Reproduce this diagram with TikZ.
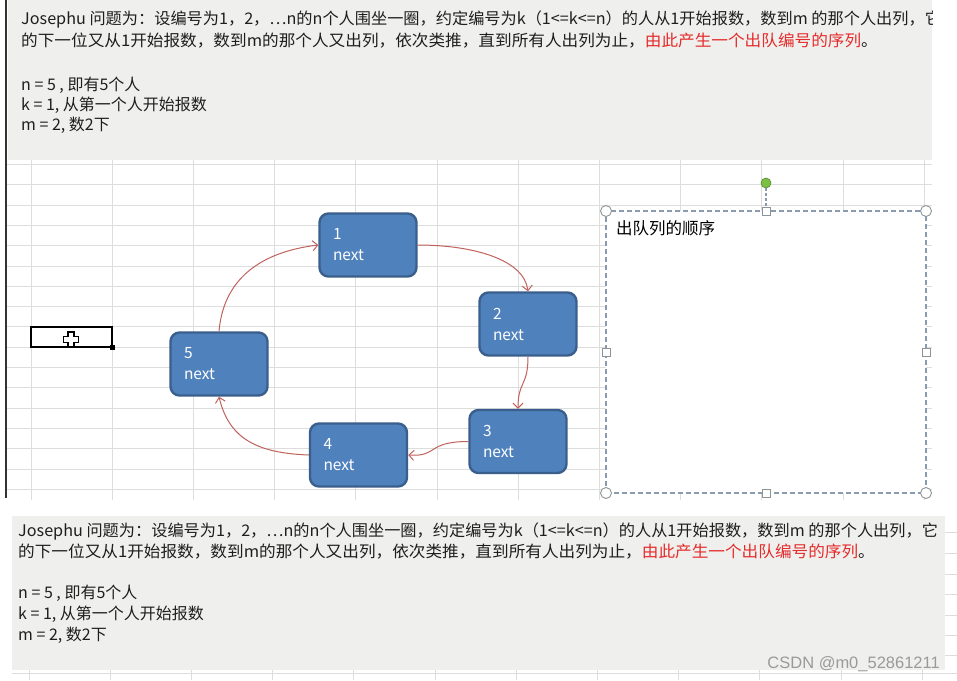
\documentclass[tikz,border=0pt]{standalone}
\usepackage{fontspec}
\newfontfamily\cjk{Noto Sans CJK SC}
\newfontfamily\wmfont{Liberation Sans}
\usetikzlibrary{arrows.meta}
\definecolor{panel}{HTML}{EFF0EE}
\definecolor{gridc}{HTML}{DCDDDC}
\definecolor{nodefill}{HTML}{4F81BD}
\definecolor{nodeedge}{HTML}{3A5F8C}
\definecolor{arrowc}{HTML}{C0635D}
\definecolor{boxc}{HTML}{8A9BB0}
\definecolor{handlec}{HTML}{8C9499}
\definecolor{greenh}{HTML}{7AC143}
\definecolor{redtxt}{HTML}{E52B2B}
\definecolor{txt}{HTML}{1E1E1E}
\definecolor{wmc}{HTML}{9A9A9A}
\newcommand{\lineone}{\scalebox{1.012}[1]{Josephu 问题为：设编号为1，2，…n的n个人围坐一圈，约定编号为k（1<=k<=n）的人从1开始报数，数到m 的那个人出列，它}}
\newcommand{\linetwo}{\scalebox{1.04}[1]{的下一位又从1开始报数，数到m的那个人又出列，依次类推，直到所有人出列为止，\textcolor{redtxt}{由此产生一个出队编号的序列}。}}
\tikzset{
  txtline/.style={anchor=base west, inner sep=0pt, text=txt, font=\cjk\fontsize{16}{20}\selectfont},
  person/.style={rectangle, rounded corners=9pt, fill=nodefill, draw=nodeedge, line width=2.4pt,
    minimum width=97pt, minimum height=63pt, text width=70pt, inner xsep=13.5pt, inner ysep=0pt,
    align=left, text=white, font=\cjk\fontsize{15.5}{21}\selectfont},
  link/.style={draw=arrowc, line width=1pt, -{Straight Barb[length=5pt,width=10pt]}},
  cornerh/.style={circle, draw=handlec, fill=white, line width=0.9pt, minimum size=11pt, inner sep=0pt},
  sideh/.style={rectangle, draw=handlec, fill=white, line width=0.9pt, minimum size=8pt, inner sep=0pt},
}
\begin{document}
\begin{tikzpicture}[x=1pt,y=-1pt]
\useasboundingbox (0,0) rectangle (957,680);
\fill[white] (0,0) rectangle (957,680);

% spreadsheet grid (middle)
\foreach \i in {0,...,16} {
  \draw[gridc, line width=0.9pt] (6,{164.5+20.3*\i}) -- (932,{164.5+20.3*\i});
}
\foreach \i in {0,...,11} {
  \draw[gridc, line width=0.9pt] ({31+81.2*\i},160) -- ({31+81.2*\i},500);
}
% grid below / right of bottom panel
\draw[gridc, line width=0.9pt] (12,673) -- (957,673);
\foreach \i in {0,...,11} {
  \draw[gridc, line width=0.9pt] ({29+81.2*\i},670) -- ({29+81.2*\i},680);
}
\foreach \yy in {532,553,574,594,615,635,655} {
  \draw[gridc, line width=0.9pt] (945,\yy) -- (957,\yy);
}

% left dark border
\draw[black!80, line width=1.6pt] (6,0) -- (6,498);

% top panel
\fill[panel] (8,0) rectangle (932,160);
\begin{scope}
\clip (8,0) rectangle (932,160);
\node[txtline] (t1) at (21,24) {\lineone};
\node[txtline] (t2) at (21,46) {\linetwo};
\node[txtline] (t3) at (21,90) {n = 5 , 即有5个人};
\node[txtline] (t4) at (21,110) {k = 1, 从第一个人开始报数};
\node[txtline] (t5) at (21,130) {m = 2, 数2下};
\end{scope}

% selected cell
\draw[black, line width=2.8pt] (31,327) rectangle (112,347);
\fill[black] (109.5,344.5) rectangle (115,350);
\filldraw[fill=white, draw=black, line width=1.1pt]
  (68,332) -- (74,332) -- (74,336.5) -- (78.5,336.5) -- (78.5,342.5) -- (74,342.5) -- (74,347)
  -- (68,347) -- (68,342.5) -- (63.5,342.5) -- (63.5,336.5) -- (68,336.5) -- cycle;

% people
\node[person] (n1) at (368,245) {1\\next};
\node[person] (n2) at (528,324) {2\\next};
\node[person] (n3) at (518,441.5) {3\\next};
\node[person] (n4) at (358.5,455) {4\\next};
\node[person] (n5) at (219,364) {5\\next};

% links
\draw[link] (n1.east) .. controls +(55,0) and +(-4,-32) .. (n2.north);
\draw[link] (n2.south) .. controls +(0,30) and +(0,-28) .. (n3.north);
\draw[link] (n3.west) .. controls +(-42,0) and +(30,2) .. (n4.east);
\draw[link] (n4.west) .. controls +(-52,-2) and +(10,42) .. (n5.south);
\draw[link] (n5.north) .. controls +(5,-58) and +(-50,6) .. (n1.west);

% order box
\node[draw=boxc, fill=white, line width=1.3pt, dash pattern=on 5pt off 3pt,
  minimum width=320pt, minimum height=282pt, inner sep=0pt] (orderbox) at (766,352) {};
\node[anchor=base west, inner sep=0pt, text=black, font=\cjk\fontsize{16.5}{20}\selectfont]
  (ordertitle) at (616,234) {出队列的顺序};
\node[circle, fill=greenh, draw=greenh!70!black, line width=0.6pt, minimum size=10pt, inner sep=0pt] (rot) at (766,183) {};
\node[sideh] (hn) at (766,211) {};
\draw[boxc, line width=1.2pt, dash pattern=on 3pt off 2pt] (rot) -- (hn);
\node[sideh] (hw) at (606,352) {};
\node[sideh] (he) at (926,352) {};
\node[sideh] (hs) at (766,493) {};
\node[cornerh] (hnw) at (606,211) {};
\node[cornerh] (hne) at (926,211) {};
\node[cornerh] (hsw) at (606,493) {};
\node[cornerh] (hse) at (926,493) {};

% bottom panel
\fill[panel] (12,516) rectangle (945,670);
\node[txtline] (b1) at (18,536) {\lineone};
\node[txtline] (b2) at (18,557) {\linetwo};
\node[txtline] (b3) at (18,598) {n = 5 , 即有5个人};
\node[txtline] (b4) at (18,619) {k = 1, 从第一个人开始报数};
\node[txtline] (b5) at (18,640) {m = 2, 数2下};
\node[anchor=base east, inner sep=0pt, text=wmc, font=\wmfont\fontsize{16.5}{20}\selectfont] (wm) at (940,668) {CSDN @m0\_52861211};
\end{tikzpicture}
\end{document}
